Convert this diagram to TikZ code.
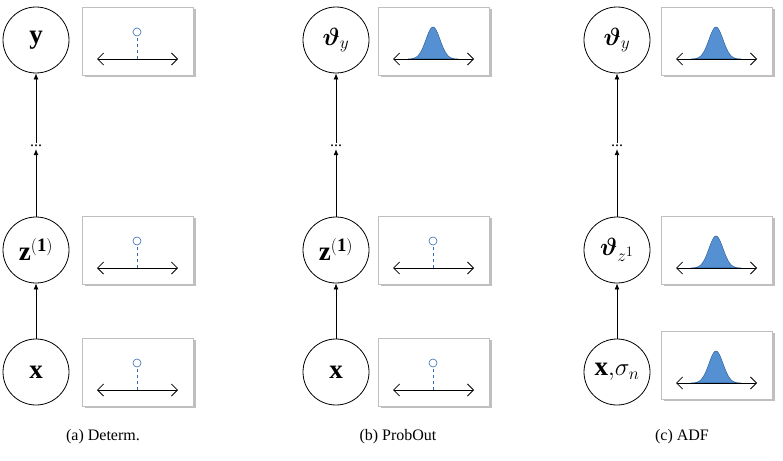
\documentclass[tikz,border=0pt]{standalone}
\usepackage{amsmath,bm}
\usepackage{fontspec}
\setmainfont{Liberation Serif}
\usetikzlibrary{shadows,arrows.meta}
\definecolor{dblue}{RGB}{50,110,180}
\definecolor{gfill}{RGB}{85,145,210}
\begin{document}
\begin{tikzpicture}[x=1pt,y=-1pt,
  var/.style={circle,draw,thick,minimum size=66pt,inner sep=0pt,font=\fontsize{27}{30}\selectfont},
  box/.style={draw=black!25,fill=white,minimum width=111pt,minimum height=68pt,inner sep=0pt,drop shadow={shadow xshift=2pt,shadow yshift=-2pt,opacity=0.5}},
  ed/.style={-{Latex[length=6pt,width=5pt]},thick},
  capt/.style={font=\fontsize{16}{19}\selectfont},
  dots/.style={font=\fontsize{16}{19}\selectfont,inner sep=2pt},
  axarr/.style={{Straight Barb[length=6pt]}-{Straight Barb[length=6pt]},thick}]
\useasboundingbox (0,0) rectangle (783,460);
\newcommand{\deltaplot}[1]{%
  \begin{scope}[shift={(#1.center)}]
  \draw[axarr] (-41,18) -- (40,18);
  \draw[dblue,dashed,semithick] (-1,18) -- (-1,-5);
  \draw[dblue,fill=white,semithick] (-1,-9) circle (4pt);
  \end{scope}}
\newcommand{\gaussplot}[1]{%
  \begin{scope}[shift={(#1.center)}]
  \fill[gfill,draw=dblue!80!black,thin] plot[domain=-25:25,samples=50] (\x-1,{18-32*exp(-(\x/10)^2)}) -- cycle;
  \draw[axarr] (-41,18) -- (40,18);
  \end{scope}}
% column a
\node[var] (ay) at (36,40) {$\mathbf{y}$};
\node[var] (az) at (36,250) {$\mathbf{z}^{\mathbf{(1)}}$};
\node[var] (ax) at (36,372) {$\mathbf{x}$};
\node[dots] (ad) at (36,146) {...};
\node[box] (ab1) at (138,41) {}; \deltaplot{ab1}
\node[box] (ab2) at (138,250) {}; \deltaplot{ab2}
\node[box] (ab3) at (138,372) {}; \deltaplot{ab3}
\draw[ed] (ax) -- (az); \draw[ed] (az) -- (ad); \draw[ed] (ad) -- (ay);
\node[capt] (ac) at (103,437) {(a) Determ.};
% column b
\node[var] (by) at (336,40) {$\bm{\vartheta}_y$};
\node[var] (bz) at (336,250) {$\mathbf{z}^{\mathbf{(1)}}$};
\node[var] (bx) at (336,372) {$\mathbf{x}$};
\node[dots] (bd) at (336,146) {...};
\node[box] (bb1) at (434,41) {}; \gaussplot{bb1}
\node[box] (bb2) at (434,250) {}; \deltaplot{bb2}
\node[box] (bb3) at (434,372) {}; \deltaplot{bb3}
\draw[ed] (bx) -- (bz); \draw[ed] (bz) -- (bd); \draw[ed] (bd) -- (by);
\node[capt] (bc) at (398,437) {(b) ProbOut};
% column c
\node[var] (cy) at (617,40) {$\bm{\vartheta}_y$};
\node[var] (cz) at (617,250) {$\bm{\vartheta}_{z^1}$};
\node[var] (cx) at (617,372) {$\mathbf{x}{,}\sigma_n$};
\node[dots] (cd) at (617,146) {...};
\node[box] (cb1) at (717,41) {}; \gaussplot{cb1}
\node[box] (cb2) at (717,250) {}; \gaussplot{cb2}
\node[box] (cb3) at (717,365) {}; \gaussplot{cb3}
\draw[ed] (cx) -- (cz); \draw[ed] (cz) -- (cd); \draw[ed] (cd) -- (cy);
\node[capt] (cc) at (682,437) {(c) ADF};
\end{tikzpicture}
\end{document}
